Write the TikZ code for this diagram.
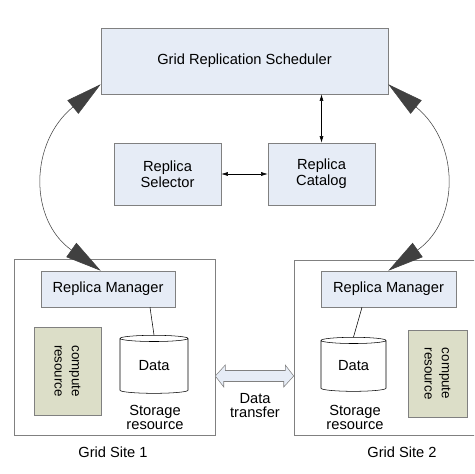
\documentclass[tikz,border=0pt]{standalone}
\usepackage{fontspec}
\setmainfont{Liberation Sans}
\usetikzlibrary{shapes.geometric,arrows.meta,positioning,calc}
\definecolor{boxblue}{RGB}{230,236,246}
\definecolor{boxgray}{RGB}{128,128,128}
\definecolor{computegreen}{RGB}{220,222,200}

\begin{document}
\begin{tikzpicture}[
    x=0.75pt, y=-0.75pt,
    font=\fontsize{11}{12}\selectfont,
    bluebox/.style={draw=boxgray, fill=boxblue, inner sep=0pt, align=center},
    sitebox/.style={draw=boxgray, fill=white, inner sep=0pt},
    computebox/.style={draw=boxgray, fill=computegreen, inner sep=0pt, align=center,
        font=\fontsize{10}{13}\selectfont},
    datastore/.style={cylinder, shape border rotate=90, draw=black, fill=white,
        aspect=0.2, inner sep=0pt},
    caption/.style={align=center, font=\fontsize{11}{10.5}\selectfont},
    smallarrow/.style={{Latex[length=5pt,width=3pt]}-{Latex[length=5pt,width=3pt]}},
    bigarrow/.style={{Triangle[length=27pt,width=13pt]}-{Triangle[length=27pt,width=13pt]}, draw=black!75},
    xferarrow/.style={draw=boxgray, fill=boxblue, line join=miter}
]
    \useasboundingbox (0,0) rectangle (474,474);
    \clip (0,0) rectangle (474,474);

    % upper part
    \node[bluebox, minimum width=215.25pt, minimum height=49.5pt] (sched) at (244.5,61) {Grid Replication Scheduler};
    \node[bluebox, minimum width=80.25pt, minimum height=46.5pt] (selector) at (167.5,174) {Replica\\Selector};
    \node[bluebox, minimum width=80.25pt, minimum height=46.5pt] (catalog) at (321.5,174) {Replica\\Catalog};

    % grid sites
    \node[sitebox, minimum width=150.75pt, minimum height=132pt] (site1) at (114.5,347) {};
    \node[sitebox, minimum width=136.5pt, minimum height=131.25pt] (site2) at (385,347.5) {};
    \node[bluebox, minimum width=100.5pt, minimum height=27pt] (mgr1) at (108,289) {Replica Manager};
    \node[bluebox, minimum width=101.25pt, minimum height=27pt] (mgr2) at (388.5,289) {Replica Manager};
    \node[computebox, minimum width=50.25pt, minimum height=66pt] (cpu1) at (67.5,371) {};
    \node[rotate=-90, align=center, font=\fontsize{10}{13}\selectfont] at (cpu1) {compute\\resource};
    \node[computebox, minimum width=44.25pt, minimum height=65.25pt] (cpu2) at (437.5,373.5) {};
    \node[rotate=-90, align=center, font=\fontsize{10}{13}\selectfont] at (cpu2) {compute\\resource};
    \node[datastore, minimum width=51pt, minimum height=43.5pt] (data1) at (154,366) {Data};
    \node[datastore, minimum width=48.75pt, minimum height=40.5pt] (data2) at (353.5,366) {Data};
    \node[caption] (stor1) at (155,417) {Storage\\resource};
    \node[caption] (stor2) at (355,417) {Storage\\resource};
    \node (label1) at (113,452) {Grid Site 1};
    \node (label2) at (402,452) {Grid Site 2};

    % data transfer
    \coordinate (xfer) at (255,376);
    \draw[xferarrow] (site1.east |- xfer) -- ++(10,-11) -- ++(0,5.5) -- ++(60,0) -- ++(0,-5.5)
        -- (site2.west |- xfer) -- ++(-10,11) -- ++(0,-5.5) -- ++(-60,0) -- ++(0,5.5) -- cycle;
    \node[caption] at (255,406) {Data\\transfer};

    % connectors
    \draw[smallarrow] (sched.south -| catalog.north) -- (catalog.north);
    \draw[smallarrow] (selector.east) -- (catalog.west);
    \draw ($(mgr1.south)+(42,0)$) -- (data1.north);
    \draw ($(mgr2.south)+(-26.5,0)$) -- (data2.north);
    \draw[bigarrow] (mgr1.north -| sched.west) .. controls (29,220) and (29,143) .. ($(sched.south west)+(0,-10)$);
    \draw[bigarrow] (mgr2.north -| sched.east) .. controls (460,220) and (460,143) .. ($(sched.south east)+(0,-10)$);
\end{tikzpicture}
\end{document}
